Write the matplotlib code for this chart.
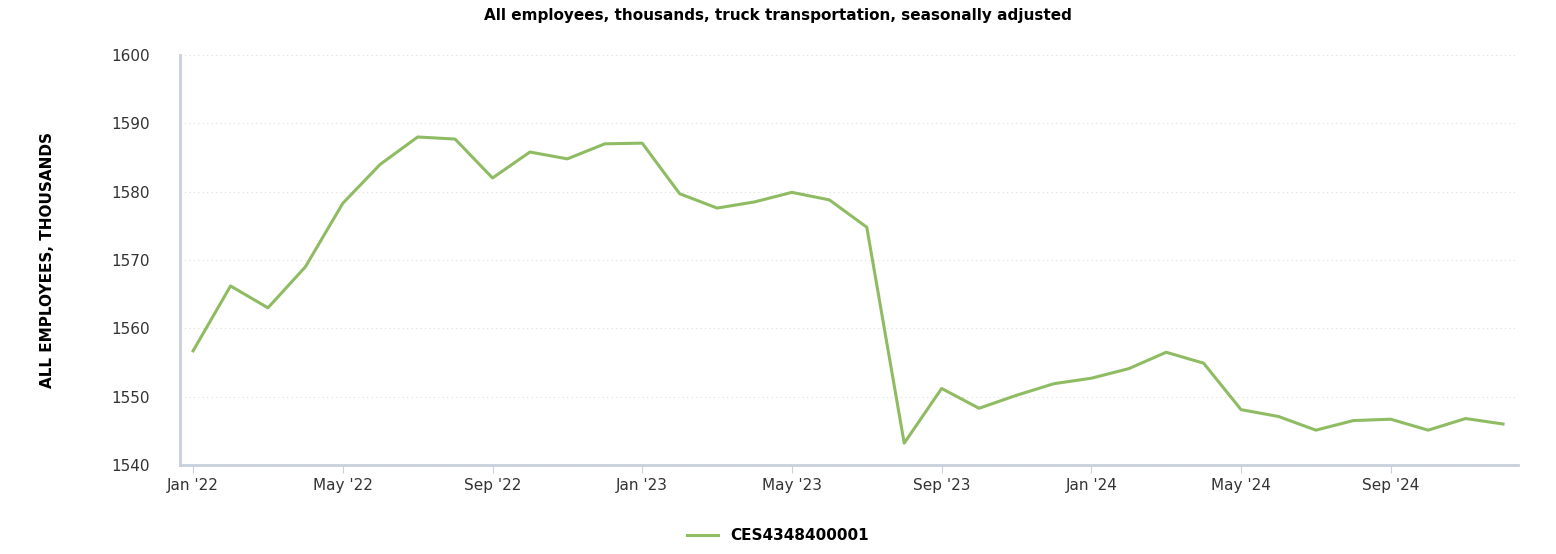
import matplotlib.pyplot as plt
import numpy as np

months = np.arange(36)
values = [1556.7, 1566.2, 1563.0, 1569.0, 1578.3, 1584.0, 1588.0, 1587.7, 1582.0, 1585.8, 1584.8, 1587.0,
          1587.1, 1579.7, 1577.6, 1578.5, 1579.9, 1578.8, 1574.8, 1543.2, 1551.2, 1548.3, 1550.2, 1551.9,
          1552.7, 1554.1, 1556.5, 1554.9, 1548.1, 1547.1, 1545.1, 1546.5, 1546.7, 1545.1, 1546.8, 1546.0]
tick_pos = [0, 4, 8, 12, 16, 20, 24, 28, 32]
tick_labels = ["Jan '22", "May '22", "Sep '22", "Jan '23", "May '23", "Sep '23", "Jan '24", "May '24", "Sep '24"]

fig = plt.figure(figsize=(15.56, 5.54), dpi=100)
ax = fig.add_axes([180 / 1556, 1 - 465 / 554, 1338 / 1556, 410 / 554])
ax.plot(months, values, color='#8fbc63', lw=2.2, label='CES4348400001')
ax.set_xlim(-0.35, 35.4)
ax.set_ylim(1540, 1600)
ax.set_yticks(range(1540, 1601, 10))
ax.set_xticks(tick_pos)
ax.set_xticklabels(tick_labels)
ax.tick_params(axis='both', labelsize=11, colors='#333333')
ax.tick_params(axis='y', length=0, pad=22)
ax.tick_params(axis='x', length=6, color='#c8d0dc')
ax.grid(axis='y', color='#dddddd', linestyle=(0, (1, 3)), lw=0.8)
for s in ['top', 'right']:
    ax.spines[s].set_visible(False)
ax.spines['left'].set_color('#c8d0dc')
ax.spines['bottom'].set_color('#c8d0dc')
ax.spines['left'].set_linewidth(2)
ax.spines['bottom'].set_linewidth(2)
ax.set_ylabel('ALL EMPLOYEES, THOUSANDS', fontsize=11, fontweight='bold', labelpad=40)
fig.suptitle('All employees, thousands, truck transportation, seasonally adjusted',
             fontsize=11, fontweight='bold', y=0.985)
fig.legend(loc='lower center', bbox_to_anchor=(0.5, -0.005), frameon=False, fontsize=11,
           prop={'weight': 'bold', 'size': 11}, handlelength=2)
fig.savefig('out.png')
